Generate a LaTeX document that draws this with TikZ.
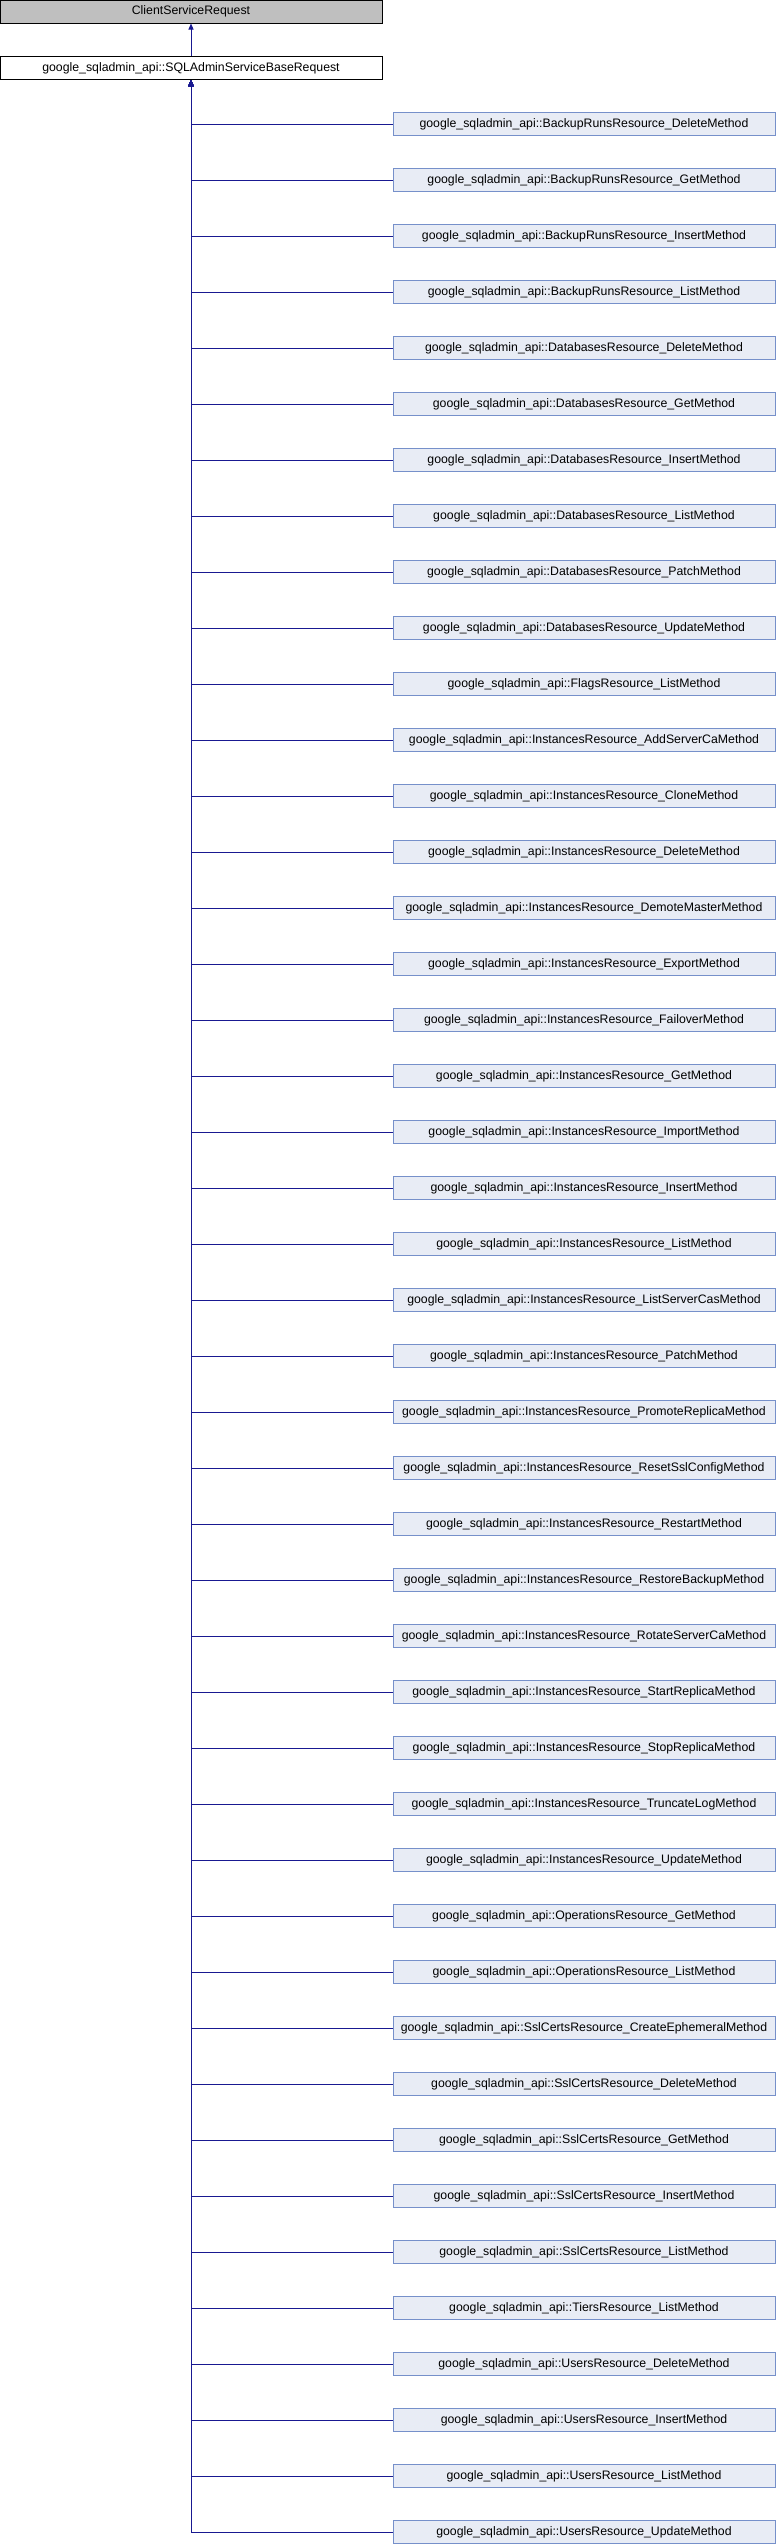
\documentclass[tikz,border=0pt]{standalone}
\usepackage{fontspec}
\setmainfont{Liberation Sans}
\usetikzlibrary{positioning, arrows.meta}

\definecolor{edgeblue}{RGB}{25,25,145}
\definecolor{classfill}{RGB}{232,236,245}
\definecolor{classdraw}{RGB}{118,144,202}
\definecolor{basefill}{RGB}{191,191,191}

\begin{document}
\begin{tikzpicture}[
    x=1pt, y=-1pt,
    font=\fontsize{12.3}{14}\selectfont,
    basebox/.style={rectangle, draw=black, line width=1pt, inner sep=0pt,
                    minimum width=382pt, minimum height=23pt},
    childbox/.style={rectangle, draw=classdraw, fill=classfill, line width=1pt,
                     inner sep=0pt, minimum width=382pt, minimum height=23pt},
    arrow/.style={-{Triangle[length=6pt, width=5pt]}, draw=edgeblue, line width=1pt}
]
    \useasboundingbox (0,0) rectangle (776,2544);

    % Base classes
    \node[basebox, fill=basefill] (client) at (191, 11.5) {ClientServiceRequest};
    \node[basebox, fill=white] (base) at (191, 68) {google\_sqladmin\_api::SQLAdminServiceBaseRequest};

    % BackupRuns
    \node[childbox] (c1) at (584, 124) {google\_sqladmin\_api::BackupRunsResource\_DeleteMethod};
    \node[childbox] (c2) at (584, 180) {google\_sqladmin\_api::BackupRunsResource\_GetMethod};
    \node[childbox] (c3) at (584, 236) {google\_sqladmin\_api::BackupRunsResource\_InsertMethod};
    \node[childbox] (c4) at (584, 292) {google\_sqladmin\_api::BackupRunsResource\_ListMethod};

    % Databases
    \node[childbox] (c5) at (584, 348) {google\_sqladmin\_api::DatabasesResource\_DeleteMethod};
    \node[childbox] (c6) at (584, 404) {google\_sqladmin\_api::DatabasesResource\_GetMethod};
    \node[childbox] (c7) at (584, 460) {google\_sqladmin\_api::DatabasesResource\_InsertMethod};
    \node[childbox] (c8) at (584, 516) {google\_sqladmin\_api::DatabasesResource\_ListMethod};
    \node[childbox] (c9) at (584, 572) {google\_sqladmin\_api::DatabasesResource\_PatchMethod};
    \node[childbox] (c10) at (584, 628) {google\_sqladmin\_api::DatabasesResource\_UpdateMethod};

    % Flags
    \node[childbox] (c11) at (584, 684) {google\_sqladmin\_api::FlagsResource\_ListMethod};

    % Instances
    \node[childbox] (c12) at (584, 740) {google\_sqladmin\_api::InstancesResource\_AddServerCaMethod};
    \node[childbox] (c13) at (584, 796) {google\_sqladmin\_api::InstancesResource\_CloneMethod};
    \node[childbox] (c14) at (584, 852) {google\_sqladmin\_api::InstancesResource\_DeleteMethod};
    \node[childbox] (c15) at (584, 908) {google\_sqladmin\_api::InstancesResource\_DemoteMasterMethod};
    \node[childbox] (c16) at (584, 964) {google\_sqladmin\_api::InstancesResource\_ExportMethod};
    \node[childbox] (c17) at (584, 1020) {google\_sqladmin\_api::InstancesResource\_FailoverMethod};
    \node[childbox] (c18) at (584, 1076) {google\_sqladmin\_api::InstancesResource\_GetMethod};
    \node[childbox] (c19) at (584, 1132) {google\_sqladmin\_api::InstancesResource\_ImportMethod};
    \node[childbox] (c20) at (584, 1188) {google\_sqladmin\_api::InstancesResource\_InsertMethod};
    \node[childbox] (c21) at (584, 1244) {google\_sqladmin\_api::InstancesResource\_ListMethod};
    \node[childbox] (c22) at (584, 1300) {google\_sqladmin\_api::InstancesResource\_ListServerCasMethod};
    \node[childbox] (c23) at (584, 1356) {google\_sqladmin\_api::InstancesResource\_PatchMethod};
    \node[childbox] (c24) at (584, 1412) {google\_sqladmin\_api::InstancesResource\_PromoteReplicaMethod};
    \node[childbox] (c25) at (584, 1468) {google\_sqladmin\_api::InstancesResource\_ResetSslConfigMethod};
    \node[childbox] (c26) at (584, 1524) {google\_sqladmin\_api::InstancesResource\_RestartMethod};
    \node[childbox] (c27) at (584, 1580) {google\_sqladmin\_api::InstancesResource\_RestoreBackupMethod};
    \node[childbox] (c28) at (584, 1636) {google\_sqladmin\_api::InstancesResource\_RotateServerCaMethod};
    \node[childbox] (c29) at (584, 1692) {google\_sqladmin\_api::InstancesResource\_StartReplicaMethod};
    \node[childbox] (c30) at (584, 1748) {google\_sqladmin\_api::InstancesResource\_StopReplicaMethod};
    \node[childbox] (c31) at (584, 1804) {google\_sqladmin\_api::InstancesResource\_TruncateLogMethod};
    \node[childbox] (c32) at (584, 1860) {google\_sqladmin\_api::InstancesResource\_UpdateMethod};

    % Operations
    \node[childbox] (c33) at (584, 1916) {google\_sqladmin\_api::OperationsResource\_GetMethod};
    \node[childbox] (c34) at (584, 1972) {google\_sqladmin\_api::OperationsResource\_ListMethod};

    % SslCerts
    \node[childbox] (c35) at (584, 2028) {google\_sqladmin\_api::SslCertsResource\_CreateEphemeralMethod};
    \node[childbox] (c36) at (584, 2084) {google\_sqladmin\_api::SslCertsResource\_DeleteMethod};
    \node[childbox] (c37) at (584, 2140) {google\_sqladmin\_api::SslCertsResource\_GetMethod};
    \node[childbox] (c38) at (584, 2196) {google\_sqladmin\_api::SslCertsResource\_InsertMethod};
    \node[childbox] (c39) at (584, 2252) {google\_sqladmin\_api::SslCertsResource\_ListMethod};

    % Tiers
    \node[childbox] (c40) at (584, 2308) {google\_sqladmin\_api::TiersResource\_ListMethod};

    % Users
    \node[childbox] (c41) at (584, 2364) {google\_sqladmin\_api::UsersResource\_DeleteMethod};
    \node[childbox] (c42) at (584, 2420) {google\_sqladmin\_api::UsersResource\_InsertMethod};
    \node[childbox] (c43) at (584, 2476) {google\_sqladmin\_api::UsersResource\_ListMethod};
    \node[childbox] (c44) at (584, 2532) {google\_sqladmin\_api::UsersResource\_UpdateMethod};

    % Arrows
    \draw[arrow] (base.north) -- (client.south);
    \draw[arrow] (c1.west) -| (base.south);
    \draw[arrow] (c2.west) -| (base.south);
    \draw[arrow] (c3.west) -| (base.south);
    \draw[arrow] (c4.west) -| (base.south);
    \draw[arrow] (c5.west) -| (base.south);
    \draw[arrow] (c6.west) -| (base.south);
    \draw[arrow] (c7.west) -| (base.south);
    \draw[arrow] (c8.west) -| (base.south);
    \draw[arrow] (c9.west) -| (base.south);
    \draw[arrow] (c10.west) -| (base.south);
    \draw[arrow] (c11.west) -| (base.south);
    \draw[arrow] (c12.west) -| (base.south);
    \draw[arrow] (c13.west) -| (base.south);
    \draw[arrow] (c14.west) -| (base.south);
    \draw[arrow] (c15.west) -| (base.south);
    \draw[arrow] (c16.west) -| (base.south);
    \draw[arrow] (c17.west) -| (base.south);
    \draw[arrow] (c18.west) -| (base.south);
    \draw[arrow] (c19.west) -| (base.south);
    \draw[arrow] (c20.west) -| (base.south);
    \draw[arrow] (c21.west) -| (base.south);
    \draw[arrow] (c22.west) -| (base.south);
    \draw[arrow] (c23.west) -| (base.south);
    \draw[arrow] (c24.west) -| (base.south);
    \draw[arrow] (c25.west) -| (base.south);
    \draw[arrow] (c26.west) -| (base.south);
    \draw[arrow] (c27.west) -| (base.south);
    \draw[arrow] (c28.west) -| (base.south);
    \draw[arrow] (c29.west) -| (base.south);
    \draw[arrow] (c30.west) -| (base.south);
    \draw[arrow] (c31.west) -| (base.south);
    \draw[arrow] (c32.west) -| (base.south);
    \draw[arrow] (c33.west) -| (base.south);
    \draw[arrow] (c34.west) -| (base.south);
    \draw[arrow] (c35.west) -| (base.south);
    \draw[arrow] (c36.west) -| (base.south);
    \draw[arrow] (c37.west) -| (base.south);
    \draw[arrow] (c38.west) -| (base.south);
    \draw[arrow] (c39.west) -| (base.south);
    \draw[arrow] (c40.west) -| (base.south);
    \draw[arrow] (c41.west) -| (base.south);
    \draw[arrow] (c42.west) -| (base.south);
    \draw[arrow] (c43.west) -| (base.south);
    \draw[arrow] (c44.west) -| (base.south);

\end{tikzpicture}
\end{document}
